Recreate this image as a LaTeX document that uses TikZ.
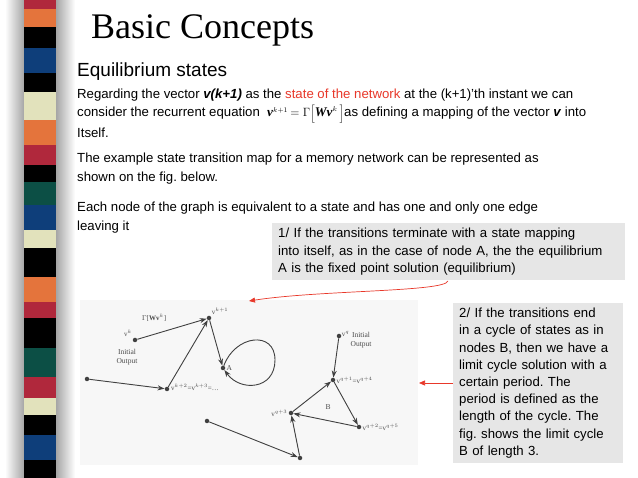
\documentclass[tikz,border=0pt]{standalone}
\usepackage{fontspec}
\setmainfont{Liberation Sans}
\newfontfamily\serif{Liberation Serif}
\usetikzlibrary{arrows.meta}
\definecolor{sred}{HTML}{B0283C}
\definecolor{sorange}{HTML}{E4743C}
\definecolor{sblue}{HTML}{0E3E7A}
\definecolor{scream}{HTML}{E2E2BC}
\definecolor{steal}{HTML}{0C4F45}
\definecolor{boxgray}{HTML}{E6E6E6}
\definecolor{linkred}{HTML}{E8382A}
\tikzset{
  txt/.style={anchor=west,inner sep=0pt,font=\fontsize{13.2}{16}\selectfont},
  gbox/.style={fill=boxgray,inner xsep=6pt,inner ysep=5pt,align=left,anchor=north west,font=\fontsize{13.2}{17.2}\selectfont},
  dot/.style={circle,fill=black!75,inner sep=0pt,minimum size=4.5pt},
  edge/.style={draw=black!75,line width=0.9pt,-{Stealth[length=7pt,width=5pt]}},
  lab/.style={font=\serif\fontsize{7}{8}\selectfont,text=black!70,inner sep=1pt},
  redarr/.style={draw=linkred,line width=0.7pt,-{Triangle[length=6pt,width=5pt]}}
}
\begin{document}
\frenchspacing
\begin{tikzpicture}[x=1pt,y=-1pt]
\useasboundingbox (0,0) rectangle (638,478);
\fill[white] (0,0) rectangle (638,478);
% shadow
\shade[left color=white,right color=black!35] (5,0) rectangle (24,478);
\shade[left color=black!35,right color=white] (56,0) rectangle (75,478);
% stripe
\foreach \a/\b/\c in {0/9/sred,9/27/sorange,27/48/black,48/73/sblue,73/92/black,92/120/scream,120/145/sorange,145/165/sred,165/182/black,182/205/steal,205/230/sblue,230/248/scream,248/277/black,277/302/sorange,302/318/sred,318/348/black,348/377/steal,377/398/sred,398/415/scream,415/435/black,435/460/sblue,460/478/black}
  \fill[\c] (24,\a) rectangle (56,\b);
% title
\node[anchor=west,inner sep=0pt,font=\serif\fontsize{36}{40}\selectfont] (title) at (91,30) {Basic Concepts};
\node[txt,font=\fontsize{19}{22}\selectfont] (h) at (77,72) {Equilibrium states};
\node[txt] (l1) at (77,95) {Regarding the vector \textbf{\textit{v(k+1)}} as the \textcolor{linkred}{state of the network} at the (k+1)'th instant we can};
\node[txt] (l2) at (77,114) {consider the recurrent equation \ {\serif\itshape\bfseries v}$^{\scriptscriptstyle k+1}$\,{\serif$=\Gamma\!\left[\textbf{\textit{Wv}}^{\scriptscriptstyle k}\,\right]$}as defining a mapping of the vector \textbf{\textit{v}} into};
\node[txt] (l3) at (77,133) {Itself.};
\node[txt] (l4) at (77,159) {The example state transition map for a memory network can be represented as};
\node[txt] (l5) at (77,178) {shown on the fig. below.};
\node[txt] (l6) at (77,208) {Each node of the graph is equivalent to a state and has one and only one edge};
\node[txt] (l7) at (77,227) {leaving it};
% boxes
\node[gbox,text width=341pt,minimum height=57pt] (b1) at (272,223) {1/ If the transitions terminate with a state mapping\\into itself, as in the case of node A, the the equilibrium\\A is the fixed point solution (equilibrium)};
\node[gbox,text width=158pt] (b2) at (453,303) {2/ If the transitions end\\in a cycle of states as in\\nodes B, then we have a\\limit cycle solution with a\\certain period. The\\period is defined as the\\length of the cycle. The\\fig. shows the limit cycle\\B of length 3.};
% figure background
\fill[black!3] (80,300) rectangle (418,465);
\coordinate (t1) at (249,301);
\coordinate (t2) at (419,383);
\draw[redarr] (448,281) .. controls (445,292) and (320,290) .. (t1);
\draw[redarr] (b2.west|-t2) -- (t2);
% graph
\node[dot] (vk) at (135,340) {};
\node[dot] (vk1) at (209,318) {};
\node[dot] (A) at (223,368) {};
\node[dot] (s1) at (87,379) {};
\node[dot] (vk2) at (167,389) {};
\draw[edge] (vk) -- (vk1);
\draw[edge] (vk1) -- (A);
\draw[edge] (s1) -- (vk2);
\draw[edge] (vk2) -- (vk1);
\draw[edge] (A) .. controls (235,335) and (275,330) .. (275,360) .. controls (275,390) and (240,392) .. (A);
\node[lab,anchor=south east] at (vk.north west) {v$^k$};
\node[lab,align=center,font=\serif\fontsize{7.5}{8.5}\selectfont] at (127,357) {Initial\\Output};
\node[lab,anchor=south] at (154,323) {$\Gamma$[\textbf{Wv}$^k$]};
\node[lab,anchor=south west] at (vk1.north east) {v$^{k+1}$};
\node[lab,anchor=west,font=\serif\fontsize{7.5}{8}\selectfont] at (A.east) {A};
\node[lab,anchor=west] at (170,387) {v$^{k+2}$=v$^{k+3}$=\dots};
\node[dot] (vq) at (339,336) {};
\node[dot] (vq1) at (333,380) {};
\node[dot] (vq3) at (291,413) {};
\node[dot] (vq2) at (359,427) {};
\node[dot] (bt) at (300,458) {};
\node[dot] (s2) at (207,421) {};
\draw[edge] (vq) -- (vq1);
\draw[edge] (vq1) -- (vq2);
\draw[edge] (vq2) -- (vq3);
\draw[edge] (vq3) -- (vq1);
\draw[edge] (s2) -- (bt);
\draw[edge] (bt) -- (vq3);
\node[lab,anchor=west] at (vq.north east) {v$^q$};
\node[lab,align=center,font=\serif\fontsize{7.5}{8.5}\selectfont] at (361,340) {Initial\\Output};
\node[lab,anchor=west] at (vq1.east) {v$^{q+1}$=v$^{q+4}$};
\node[lab,anchor=east] at (vq3.west) {v$^{q+3}$};
\node[lab,anchor=west] at (vq2.east) {v$^{q+2}$=v$^{q+5}$};
\node[lab,font=\serif\fontsize{7.5}{8}\selectfont] at (328,407) {B};
\end{tikzpicture}
\end{document}
